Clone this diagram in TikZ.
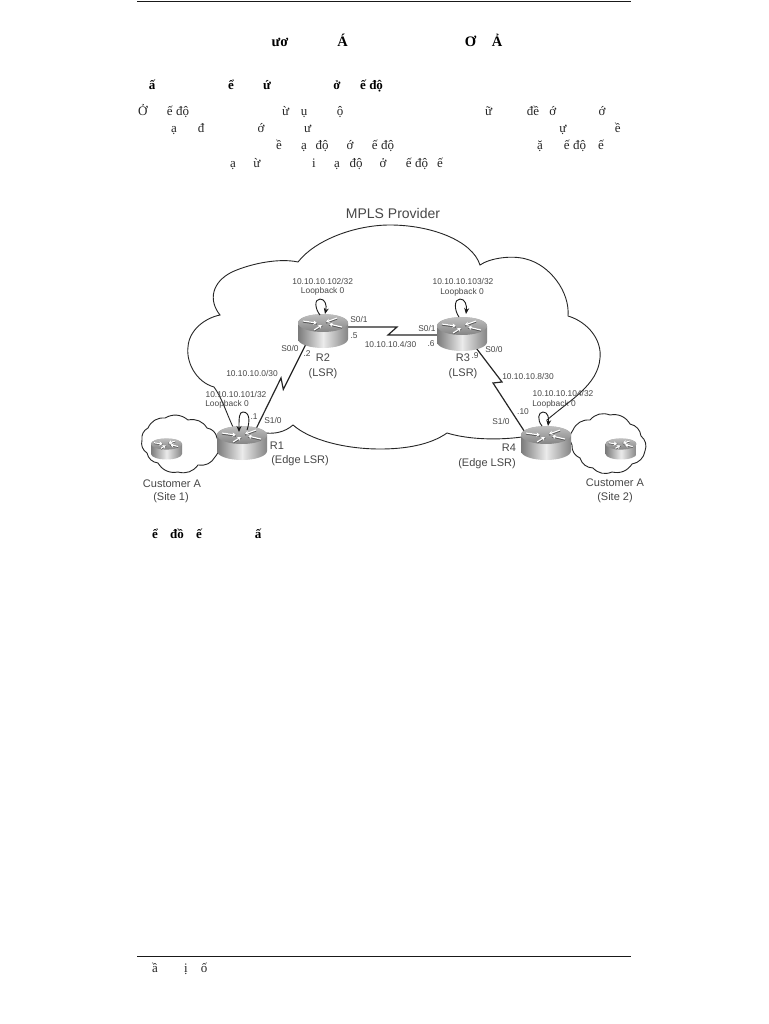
\documentclass[tikz,border=0pt]{standalone}
\usepackage{fontspec}
\setmainfont{Liberation Serif}
\setsansfont{Liberation Sans}
\usetikzlibrary{arrows.meta}
\definecolor{lab}{gray}{0.28}
\newcommand{\fs}[1]{\fontsize{#1}{#1}\selectfont}
\tikzset{
  x=1pt,y=-1pt,
  rule/.style={line width=1pt,black!90},
  ttl/.style={inner sep=0pt,anchor=base,font=\fs{14.5}\bfseries},
  hdg/.style={inner sep=0pt,anchor=base,font=\fs{13}\bfseries},
  txt/.style={inner sep=0pt,anchor=base,font=\fs{13},text=black!85},
  captxt/.style={inner sep=0pt,anchor=base,font=\fs{13}\bfseries},
  small/.style={inner sep=0pt,font=\sffamily\fs{8.4},text=lab},
  mid/.style={inner sep=0pt,font=\sffamily\fs{11},text=lab,align=center},
  big/.style={inner sep=0pt,font=\sffamily\fs{14},text=lab},
  cloudline/.style={line width=0.9pt,black!85},
  link/.style={line width=1.2pt,black!85,line join=miter},
  loopb/.style={line width=0.9pt,black!90,-{Stealth[length=6pt,width=5pt]}},
  rarrow/.style={line width=1.2pt,white,-{Stealth[length=3.6pt,width=4.2pt]}},
  rshadow/.style={line width=2pt,black!65},
}
\newcommand{\router}[3]{%
  \begin{scope}[shift={(#1,#2)},scale=#3]
    \shade[left color=black!52,right color=black!48,middle color=white!92!black]
      (-25,0) -- (-25,16) arc[start angle=180,end angle=360,x radius=25,y radius=-9] -- (25,0)
      arc[start angle=0,end angle=180,x radius=25,y radius=-9] -- cycle;
    \shade[top color=black!25,bottom color=black!48] (0,0) ellipse[x radius=25,y radius=9];
    \foreach \ax/\ay/\bx/\by in {-20/-2/-6/0,19/4/6/1,14/-5/3/-1,-9/7/-1/2}{
      \draw[rshadow] (\ax,\ay+0.6) -- (\bx,\by+0.6);
      \draw[rarrow] (\ax,\ay) -- (\bx,\by);
    }
  \end{scope}}
\begin{document}
\begin{tikzpicture}
\useasboundingbox[fill=white] (0,0) rectangle (768,1024);
% rules
\coordinate (rtl) at (137,2); \coordinate (rtr) at (631,2);
\coordinate (rbl) at (137,956.7); \coordinate (rbr) at (631,956.7);
\draw[rule] (rtl) -- (rtr);
\draw[rule] (rbl) -- (rbr);
% title
\node[ttl] (t1) at (280,47) {ươ};
\node[ttl] (t2) at (342.6,47) {Á};
\node[ttl] (t3) at (470.6,47) {Ơ};
\node[ttl] (t4) at (497,47) {Ả};
% heading
\node[hdg] (h1) at (152,90) {ấ};
\node[hdg] (h2) at (231,90) {ể};
\node[hdg] (h3) at (267,90) {ứ};
\node[hdg] (h4) at (337,90) {ở};
\node[hdg] (h5) at (371.6,90) {ế độ};
% body
\node[txt] (a1) at (142.7,116) {Ở};
\node[txt] (a2) at (178,116) {ế độ};
\node[txt] (a3) at (285.7,116) {ừ};
\node[txt] (a4) at (304,116) {ụ};
\node[txt] (a5) at (340,116) {ộ};
\node[txt] (a6) at (488.7,116) {ữ};
\node[txt] (a7) at (533,116) {đề};
\node[txt] (a8) at (552.7,116) {ớ};
\node[txt] (a9) at (602,116) {ớ};
\node[txt] (b1) at (174,133) {ạ};
\node[txt] (b2) at (201,133) {đ};
\node[txt] (b3) at (261,133) {ớ};
\node[txt] (b4) at (307.7,133) {ư};
\node[txt] (b5) at (563,133) {ự};
\node[txt] (b6) at (617.7,133) {ề};
\node[txt] (c1) at (279,150) {ề};
\node[txt] (c2) at (304,150) {ạ};
\node[txt] (c3) at (322,150) {độ};
\node[txt] (c4) at (350,150) {ớ};
\node[txt] (c5) at (383,150) {ế độ};
\node[txt] (c6) at (540,150) {ặ};
\node[txt] (c7) at (575,150) {ế độ};
\node[txt] (c8) at (601,150) {ế};
\node[txt] (d1) at (233,168) {ạ};
\node[txt] (d2) at (257,168) {ừ};
\node[txt] (d3) at (314,168) {i};
\node[txt] (d4) at (337,168) {ạ};
\node[txt] (d5) at (356,168) {độ};
\node[txt] (d6) at (383,168) {ở};
\node[txt] (d7) at (417,168) {ế độ};
\node[txt] (d8) at (440,168) {ế};
% caption and footer
\node[captxt] (e1) at (155,538) {ể};
\node[captxt] (e2) at (177,538) {đồ};
\node[captxt] (e3) at (199,538) {ế};
\node[captxt] (e4) at (258,538) {ấ};
\node[txt] (f1) at (155,972) {ầ};
\node[txt] (f2) at (186,972) {ị};
\node[txt] (f3) at (204,972) {ố};
% main cloud
\draw[cloudline]
  (233,427) .. controls (226,412) and (222,398) .. (214,387)
  .. controls (196,382) and (186,362) .. (188,347)
  .. controls (189,330) and (205,318) .. (220,315)
  .. controls (208,300) and (212,282) .. (232,272)
  .. controls (252,263) and (280,258) .. (298,262)
  .. controls (315,240) and (355,225) .. (390,225)
  .. controls (430,225) and (472,240) .. (480,265)
  .. controls (490,258) and (512,255) .. (526,259)
  .. controls (550,265) and (570,292) .. (568,316)
  .. controls (588,322) and (602,340) .. (600,358)
  .. controls (598,385) and (570,400) .. (547,420)
  (522,437) .. controls (500,440) and (470,440) .. (447,433)
  .. controls (430,445) and (405,449) .. (380,449)
  .. controls (345,449) and (310,440) .. (293,425)
  .. controls (285,432) and (275,434) .. (266,433);
% customer clouds
\draw[cloudline] (148,428) to[bend left=35] (165,418) to[bend left=35] (188,420)
  to[bend left=35] (207,428) to[bend left=35] (217,438) to[bend left=35] (215,457)
  to[bend left=35] (198,465) to[bend left=35] (178,472) to[bend left=35] (158,463)
  to[bend left=35] (147,453) to[bend left=35] (142,440) to[bend left=35] (148,428);
\draw[cloudline] (573,430) to[bend left=35] (590,420) to[bend left=35] (610,415)
  to[bend left=35] (630,424) to[bend left=35] (641,436) to[bend left=35] (645,451)
  to[bend left=35] (632,464) to[bend left=35] (612,472) to[bend left=35] (593,468)
  to[bend left=35] (580,458) to[bend left=35] (572,445) to[bend left=35] (573,430);
% link ends
\coordinate (R1) at (254,433);
\coordinate (R2) at (308,340);
\coordinate (R3) at (470,340);
\coordinate (R4) at (530,440);
\coordinate (R2e) at (340,327);
\coordinate (R3w) at (445,335);
\coordinate (z1a) at (281,378); \coordinate (z1b) at (283.3,389.3);
\coordinate (z2a) at (397,327); \coordinate (z2b) at (388,335);
\coordinate (z3a) at (502,382); \coordinate (z3b) at (493,383);
\draw[link] (R1) -- (z1a) -- (z1b) -- (R2);
\draw[link] (R2e) -- (z2a) -- (z2b) -- (R3w);
\draw[link] (R3) -- (z3a) -- (z3b) -- (R4);
% routers
\router{242}{435}{1}
\router{323}{323}{1}
\router{462}{326}{1}
\router{546}{435}{1}
\router{166.5}{444}{0.62}
\router{621}{444}{0.62}
% labels
\node[big] (mp) at (393,213) {MPLS Provider};
\node[small] (l1) at (322.7,281) {10.10.10.102/32};
\node[small] (l2) at (322.7,291.7) {Loopback 0};
\node[small] (l3) at (463,281) {10.10.10.103/32};
\node[small] (l4) at (462,292) {Loopback 0};
\node[small] (l5) at (236,394) {10.10.10.101/32};
\node[small] (l6) at (227,404) {Loopback 0};
\node[small] (l7) at (563,393) {10.10.10.104/32};
\node[small] (l8) at (554,404) {Loopback 0};
\node[small] (n1) at (252,373) {10.10.10.0/30};
\node[small] (n2) at (390.5,344) {10.10.10.4/30};
\node[small] (n3) at (528,376) {10.10.10.8/30};
\node[small] (i1) at (359,319) {S0/1};
\node[small] (i2) at (354,336) {.5};
\node[small] (i3) at (290,348) {S0/0};
\node[small] (i4) at (307,354) {.2};
\node[small] (i5) at (254,417) {.1};
\node[small] (i6) at (273,420) {S1/0};
\node[small] (i7) at (427,328) {S0/1};
\node[small] (i8) at (431,344) {.6};
\node[small] (i9) at (494,349) {S0/0};
\node[small] (i10) at (475,356) {.9};
\node[small] (i11) at (523,412) {.10};
\node[small] (i12) at (501,421) {S1/0};
\node[mid] (r1) at (277,446) {R1};
\node[mid] (r1b) at (300,461) {(Edge LSR)};
\node[mid] (r2) at (323,358) {R2};
\node[mid] (r2b) at (323,374) {(LSR)};
\node[mid] (r3) at (463,358) {R3};
\node[mid] (r3b) at (463,374) {(LSR)};
\node[mid] (r4) at (509,448) {R4};
\node[mid] (r4b) at (487,464) {(Edge LSR)};
\node[mid] (ca) at (172,484) {Customer A};
\node[mid] (cb) at (171,498) {(Site 1)};
\node[mid] (da) at (615,483) {Customer A};
\node[mid] (db) at (615,498) {(Site 2)};
% loopbacks
\coordinate (lp1) at (247,430); \coordinate (lpe1) at (239,432);
\coordinate (lp2) at (320,315); \coordinate (lpe2) at (325,314);
\coordinate (lp3) at (459,317); \coordinate (lpe3) at (466,314);
\coordinate (lp4) at (542,426); \coordinate (lpe4) at (548,426);
\draw[loopb] (lp1) .. controls (250,422) and (250,412) .. (243,412) .. controls (239,412) and (239,418) .. (lpe1);
\draw[loopb] (lp2) .. controls (315,309) and (314,299) .. (320,299) .. controls (325,299) and (327,305) .. (lpe2);
\draw[loopb] (lp3) .. controls (454,310) and (454,299) .. (460,299) .. controls (465,299) and (467,305) .. (lpe3);
\draw[loopb] (lp4) .. controls (537,420) and (538,412) .. (543,412) .. controls (548,412) and (549,418) .. (lpe4);
\end{tikzpicture}
\end{document}
